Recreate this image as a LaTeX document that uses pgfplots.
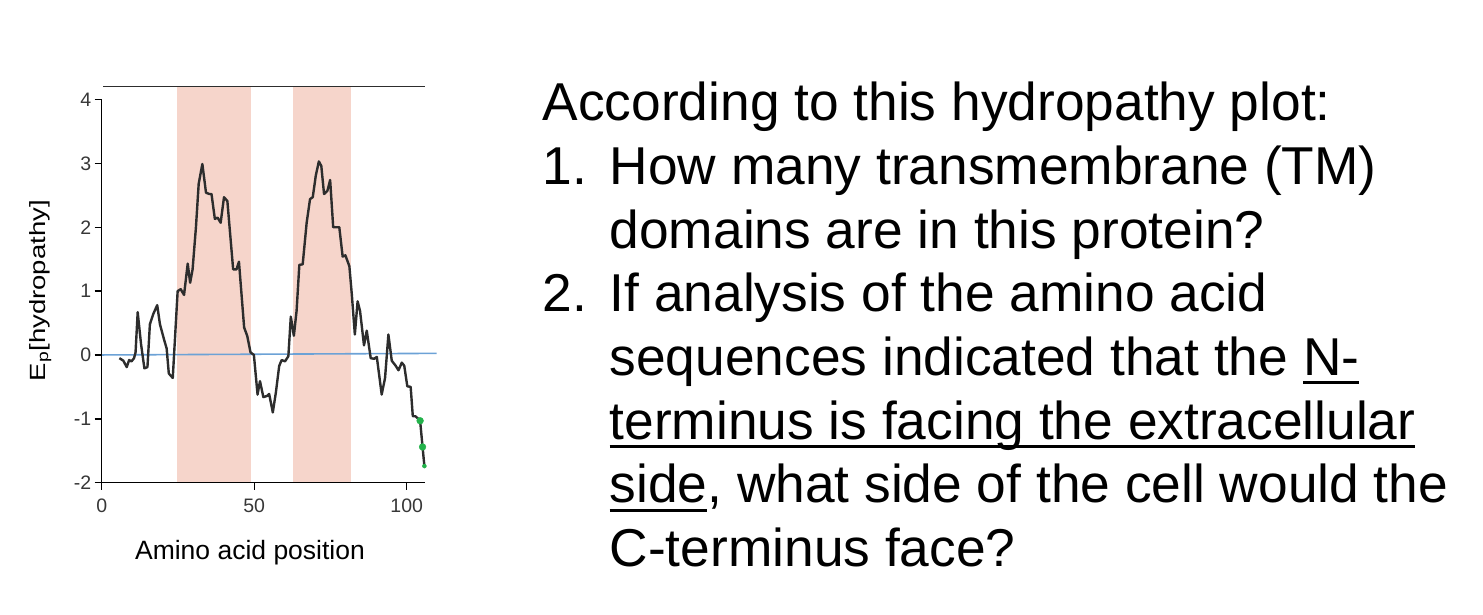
\documentclass[border=0pt]{standalone}
\usepackage{fontspec}
\setmainfont{Liberation Sans}
\usepackage{graphicx}
\usepackage{pgfplots}
\pgfplotsset{compat=1.18}
\definecolor{tmshade}{RGB}{246,213,203}
\definecolor{zeroblue}{RGB}{108,162,214}
\definecolor{curvegray}{RGB}{45,45,45}
\definecolor{dotgreen}{RGB}{35,178,75}
\definecolor{tickgray}{RGB}{55,55,55}
\newcommand{\ul}[1]{\setbox0\hbox{#1}\rlap{\rule[-8.7pt]{\wd0}{3pt}}\box0}
\begin{document}
\begin{tikzpicture}
\useasboundingbox (0,0) rectangle (1483pt,614pt);
\begin{axis}[
  at={(101.7pt,131.3pt)}, anchor=south west,
  scale only axis, width=323.3pt, height=396pt,
  xmin=0, xmax=106, ymin=-2, ymax=4.2,
  axis line style={draw=none},
  clip=false,
  tick pos=left, tick align=outside,
  major tick length=7pt,
  tick style={black, line width=1.4pt},
  xtick={0,50,100}, xticklabels={0,50,100},
  ytick={-2,-1,0,1,2,3,4}, yticklabels={-2,-1,0,1,2,3,4},
  ticklabel style={font=\fontsize{19.5}{21}\selectfont, text=tickgray},
  xticklabel style={yshift=-6pt},
]
\addplot[fill=tmshade, draw=none] coordinates {(24.6,-2) (24.6,4.2) (48.9,4.2) (48.9,-2)} -- cycle;
\addplot[fill=tmshade, draw=none] coordinates {(62.8,-2) (62.8,4.2) (81.9,4.2) (81.9,-2)} -- cycle;
\addplot[zeroblue, line width=1.6pt] coordinates {(0,0) (109.8,0.025)};
\addplot[curvegray, line width=2.4pt, line join=round] coordinates {
(5.8,-0.05) (7.1,-0.09) (8.2,-0.19) (9.0,-0.08) (9.8,-0.10) (10.6,-0.05) (11.1,0.04)
(11.8,0.67) (12.9,0.17) (14.0,-0.21) (15.0,-0.19) (15.8,0.48) (16.9,0.64) (18.2,0.78)
(19.1,0.48) (20.4,0.25) (21.3,0.10) (22.0,-0.29) (23.3,-0.36) (24.9,1.00) (25.9,1.03)
(27.0,0.94) (28.2,1.43) (29.0,1.13) (29.8,1.34) (30.9,2.00) (31.8,2.68) (33.0,2.99)
(34.2,2.54) (35.3,2.52) (36.0,2.52) (37.1,2.13) (38.0,2.15) (39.0,2.07) (40.1,2.47)
(41.2,2.41) (43.1,1.34) (44.2,1.34) (45.0,1.46) (46.7,0.43) (47.7,0.30) (48.8,0.04)
(49.9,0.00) (51.1,-0.62) (51.9,-0.41) (53.0,-0.66) (54.3,-0.64) (54.9,-0.61) (56.1,-0.90)
(57.1,-0.59) (58.2,-0.17) (59.0,-0.08) (60.1,-0.10) (61.2,-0.02) (62.0,0.60) (63.0,0.30)
(63.9,0.69) (64.8,1.41) (65.9,1.42) (67.2,2.07) (68.3,2.44) (69.2,2.47) (70.2,2.81)
(71.2,3.03) (72.0,2.96) (72.9,2.52) (74.0,2.57) (74.9,2.74) (75.9,2.00) (77.9,2.00)
(79.0,1.54) (79.9,1.56) (81.2,1.39) (82.0,0.95) (83.0,0.32) (83.9,0.84) (84.7,0.69)
(86.0,0.15) (86.9,0.38) (88.2,-0.05) (89.3,-0.06) (90.2,-0.03) (91.8,-0.62) (92.9,-0.36)
(94.0,0.32) (95.1,-0.09) (96.4,-0.17) (97.3,-0.24) (98.4,-0.12) (99.2,-0.17) (100.2,-0.49)
(101.3,-0.50) (102.0,-0.96) (102.9,-0.96) (104.4,-1.03) (105.2,-1.44) (105.8,-1.74)
};
\addplot[only marks, mark=*, mark size=3.4pt, dotgreen, mark options={draw=none, fill=dotgreen}] coordinates {(104.4,-1.03) (105.2,-1.44)};
\addplot[only marks, mark=*, mark size=2pt, dotgreen, mark options={draw=none, fill=dotgreen}] coordinates {(105.8,-1.74)};
\draw[black, line width=1.4pt] (axis cs:0,4) -- (axis cs:0,-2) -- (axis cs:106,-2);
\draw[curvegray, line width=1.3pt] (axis cs:0.5,4.2) -- (axis cs:106,4.2);
\end{axis}
\node[anchor=base, inner sep=0pt, font=\fontsize{26.5}{30}\selectfont] at (250pt,54.7pt) {Amino acid position};
\node[rotate=90, anchor=base, inner sep=0pt, font=\fontsize{22}{26}\selectfont] at (45pt,323.2pt) {\scalebox{1.25}[1]{E\textsubscript{p}[hydropathy]}};
\begin{scope}[every node/.style={inner sep=0pt, anchor=base west, font=\fontsize{53.3}{60}\selectfont}]
\node at (542.5pt,493pt) {According to this hydropathy plot:};
\node at (542.5pt,429.35pt) {1.};
\node at (609.5pt,429.35pt) {How many transmembrane (TM)};
\node at (609.5pt,365.7pt) {domains are in this protein?};
\node at (542.5pt,302.05pt) {2.};
\node at (609.5pt,302.05pt) {If analysis of the amino acid};
\node at (609.5pt,238.4pt) {sequences indicated that the \ul{N-}};
\node at (609.5pt,174.75pt) {\ul{terminus is facing the extracellular}};
\node at (609.5pt,111.1pt) {\ul{side}, what side of the cell would the};
\node at (609.5pt,47.45pt) {C-terminus face?};
\end{scope}
\end{tikzpicture}
\end{document}
